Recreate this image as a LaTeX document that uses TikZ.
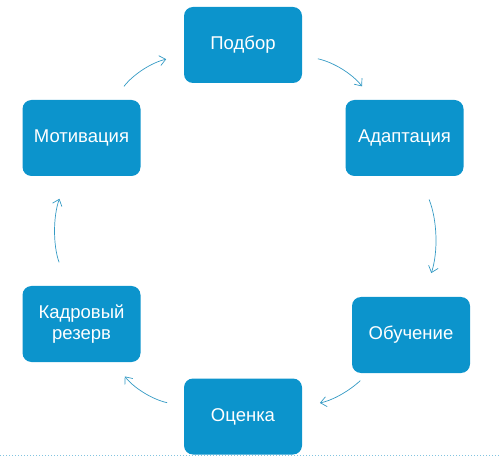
\documentclass[tikz,border=0pt]{standalone}
\usepackage{fontspec}
\setmainfont{Liberation Sans}
\usetikzlibrary{positioning}
\usetikzlibrary{arrows.meta}
\definecolor{stageblue}{RGB}{12,148,204}
\definecolor{cycblue}{RGB}{52,154,196}
\definecolor{dotblue}{RGB}{130,196,224}
\tikzset{
    stage/.style = {rectangle, rounded corners=9pt, fill=stageblue, align=center, minimum width=118pt, minimum height=76pt, inner sep=2pt, font=\fontsize{18.5}{21}\selectfont, text=white},
    cyc/.style = {-{Straight Barb[length=6pt,width=10pt]}, line width=0.7pt, cycblue},
    baseline/.style = {dotblue, line width=1pt, dash pattern=on 1pt off 2pt}
}
\begin{document}
\begin{tikzpicture}[x=1pt,y=1pt]
\useasboundingbox (0,0) rectangle (501,-457);
%
\coordinate (bl) at (0,-455.5);
\coordinate (br) at (501,-455.5);
\draw[baseline] (bl) -- (br);
%
\node[stage] at (243, -45) (pod) {Подбор};
\node[stage] at (404.5, -138) (ada) {Адаптация};
\node[stage] at (411, -335) (obu) {Обучение};
\node[stage] at (243, -416.5) (oce) {Оценка};
\node[stage] at (81.5, -324) (kad) {Кадровый\\резерв};
\node[stage] at (81.5, -138) (mot) {Мотивация};
%
\draw[cyc] (mot) edge[bend left=20, shorten <=17pt, shorten >=18pt] (pod);
\draw[cyc] (pod) edge[bend left=20, shorten <=16pt, shorten >=17pt] (ada);
\draw[cyc] (ada) edge[bend left=20, shorten <=25pt, shorten >=25pt] (obu);
\draw[cyc] (obu) edge[bend left=16, shorten <=11pt, shorten >=18pt] (oce);
\draw[cyc] (oce) edge[bend left=20, shorten <=17pt, shorten >=18pt] (kad);
\draw[cyc] (kad) edge[bend left=20, shorten <=25pt, shorten >=24pt] (mot);
\end{tikzpicture}
\end{document}
